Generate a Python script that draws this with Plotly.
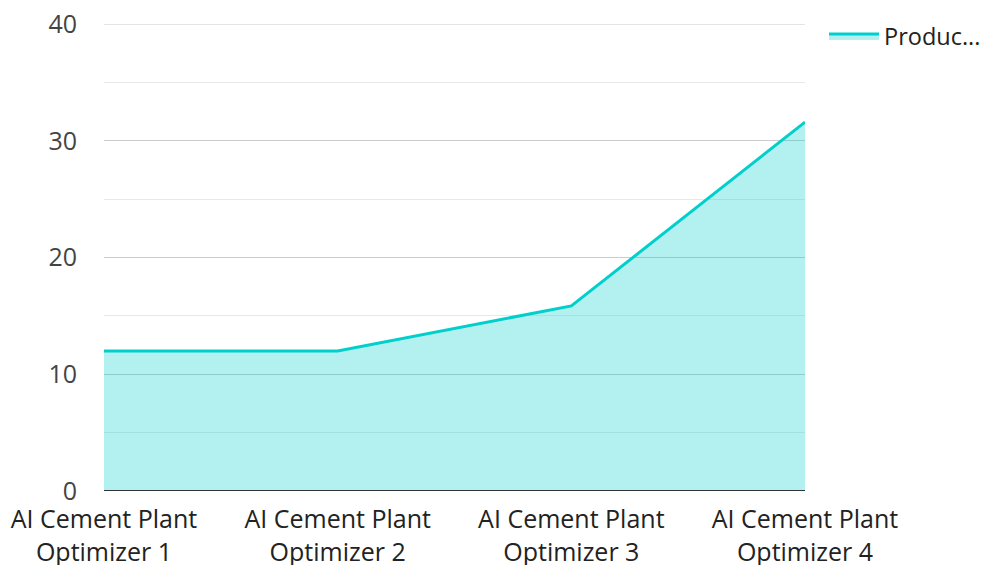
import plotly.graph_objects as go

categories = ["AI Cement Plant<br>Optimizer 1", "AI Cement Plant<br>Optimizer 2",
              "AI Cement Plant<br>Optimizer 3", "AI Cement Plant<br>Optimizer 4"]
values = [12, 12, 15.85, 31.6]
series_name = "Produc..."
y_ticks = [0, 10, 20, 30, 40]
y_minor = [5, 15, 25, 35]

FONT = "Open Sans, Noto Sans, sans-serif"
FS = 25
W, H = 1010, 565

fig = go.Figure()
fig.add_trace(go.Scatter(
    x=list(range(len(categories))), y=values, name=series_name,
    mode="lines", fill="tozeroy",
    line=dict(color="#00CFCB", width=3),
    fillcolor="rgba(0,207,203,0.3)",
))

fig.update_layout(
    width=W, height=H,
    margin=dict(l=96, r=W - 96 - 701, t=16, b=82),
    paper_bgcolor="white", plot_bgcolor="white",
    font=dict(family=FONT, size=FS, color="#444"),
    showlegend=True,
    legend=dict(xref="container", yref="container", x=816 / W, y=0.989,
                xanchor="left", yanchor="top",
                font=dict(size=23.5, color="#222"), bgcolor="rgba(0,0,0,0)",
                itemwidth=50),
    xaxis=dict(
        range=[0, 3], tickmode="array", tickvals=list(range(len(categories))),
        ticktext=categories, showgrid=False, zeroline=False, automargin=False,
        showline=False, ticks="", tickfont=dict(size=FS, color="#222"),
        ticklabelstandoff=11, ticklabeloverflow="allow",
    ),
    yaxis=dict(
        range=[0, 40], tickmode="array", tickvals=y_ticks, automargin=False,
        showgrid=True, gridcolor="#cccccc", gridwidth=1,
        minor=dict(tickvals=y_minor, showgrid=True, gridcolor="#e8e8e8", gridwidth=1),
        zeroline=False, showline=False, ticks="",
        tickfont=dict(size=FS, color="#444"), ticklabelstandoff=26,
        ticklabeloverflow="allow",
    ),
)
fig.add_shape(type="line", xref="paper", yref="y", x0=0, x1=1, y0=y_ticks[-1], y1=y_ticks[-1],
              line=dict(color="#cccccc", width=1), layer="below")
fig.add_shape(type="line", xref="paper", yref="y", x0=0, x1=1, y0=0, y1=0,
              line=dict(color="#333333", width=2))

fig.write_html("out.html")
